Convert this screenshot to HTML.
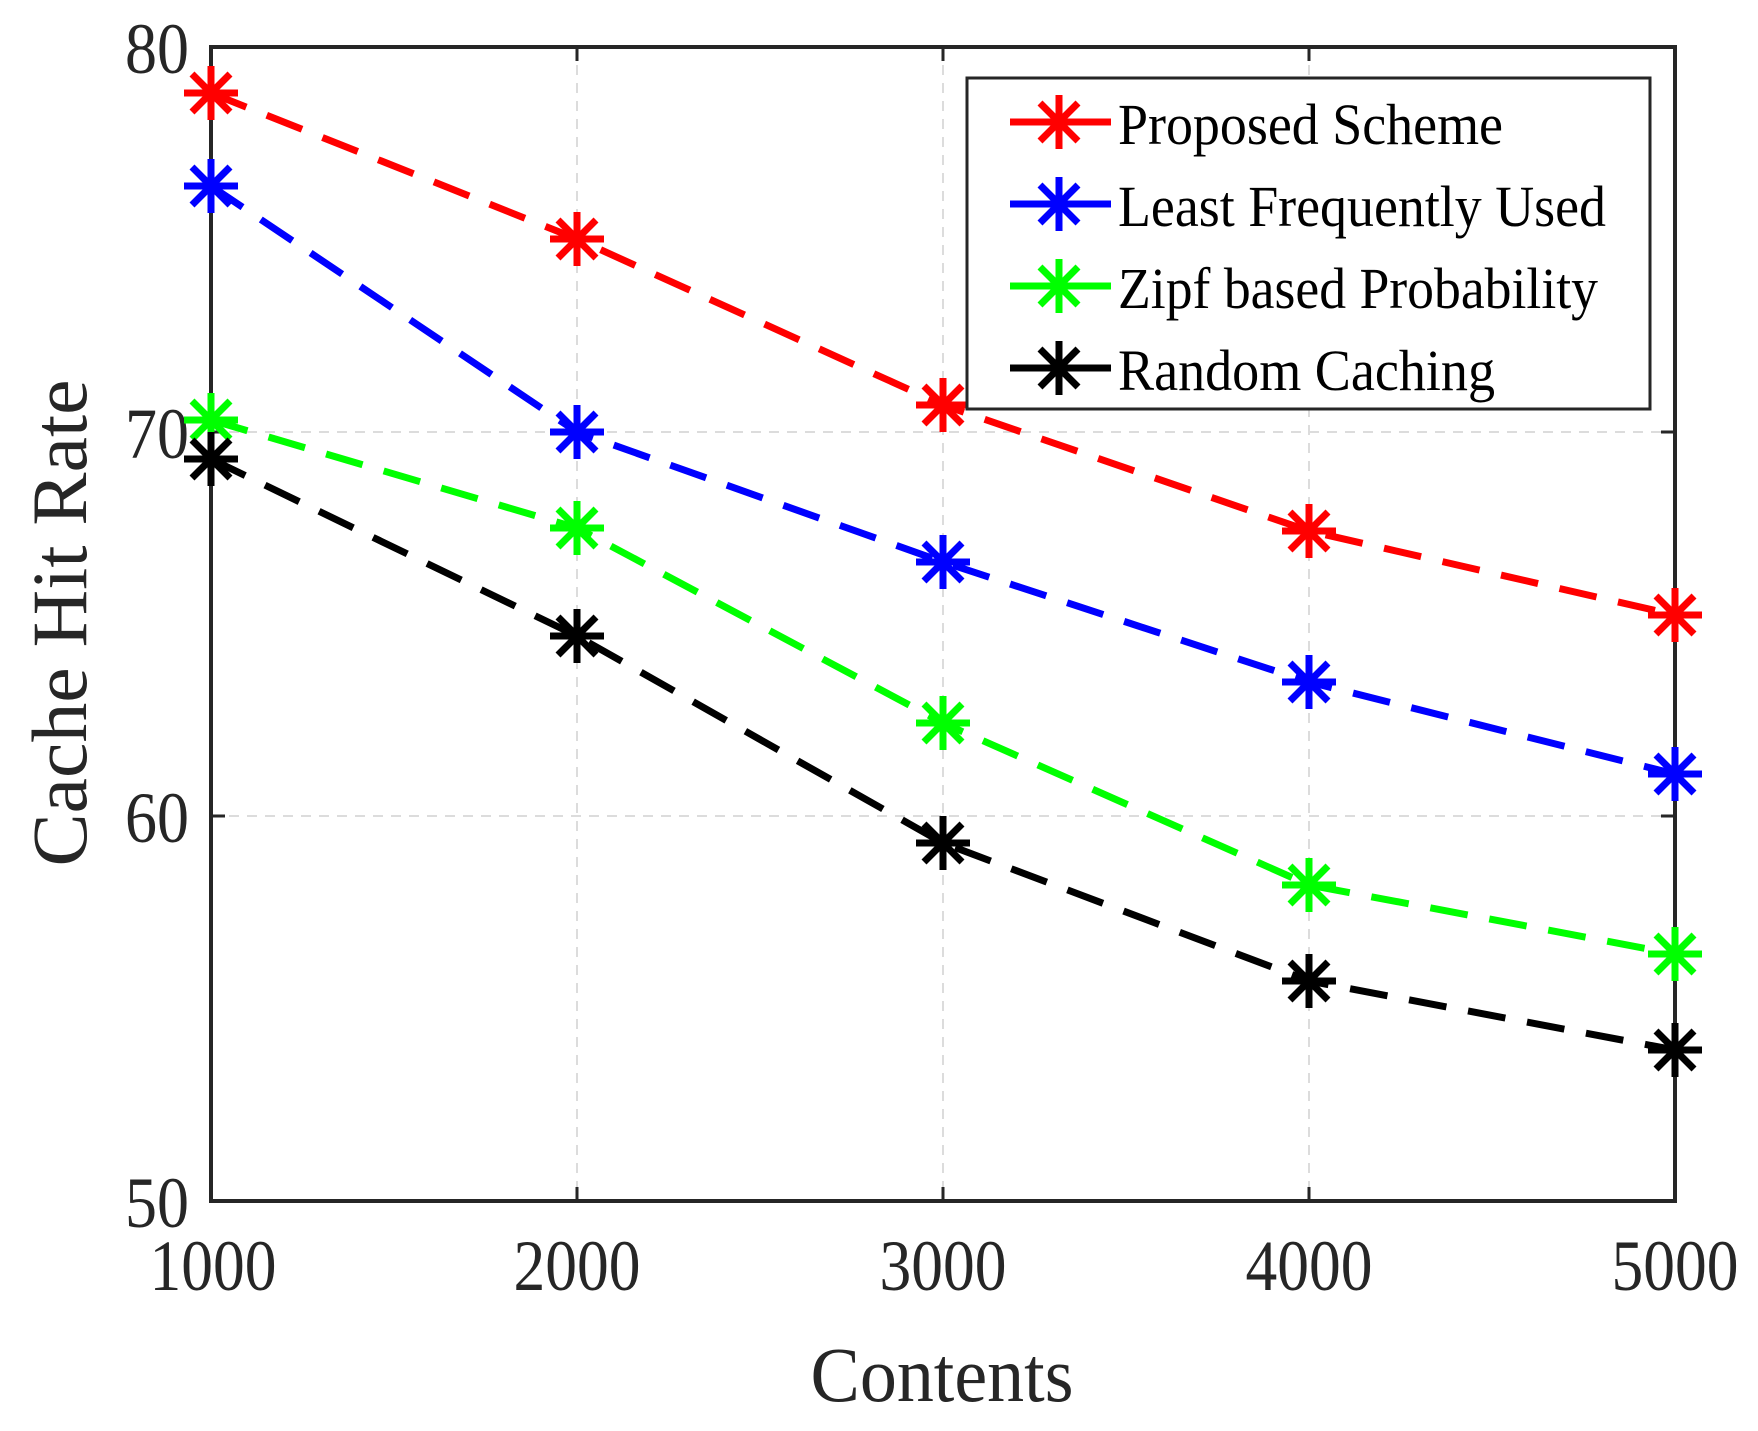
<!DOCTYPE html>
<html><head><style>body{margin:0;background:#fff}svg{display:block}</style></head><body>
<svg width="1758" height="1431" viewBox="0 0 1758 1431" xmlns="http://www.w3.org/2000/svg" font-family="Liberation Serif, serif" fill="#262626">
<defs>
<g id="ast"><path d="M0,-27V27M-27,0H27M-19,-19L19,19M-19,19L19,-19" stroke-width="7" fill="none"/></g>
</defs>
<rect width="1758" height="1431" fill="#fff"/>
<g stroke="#dcdcdc" stroke-width="2" stroke-dasharray="10,8">
<line x1="577" y1="47" x2="577" y2="1201"/><line x1="943" y1="47" x2="943" y2="1201"/><line x1="1309" y1="47" x2="1309" y2="1201"/>
<line x1="211" y1="432" x2="1675" y2="432"/><line x1="211" y1="816" x2="1675" y2="816"/>
</g>
<g fill="none" stroke="#262626" stroke-width="4">
<rect x="211" y="47" width="1464" height="1154"/>
</g>
<g stroke="#262626" stroke-width="3">
<line x1="577" y1="1201" x2="577" y2="1187"/><line x1="943" y1="1201" x2="943" y2="1187"/><line x1="1309" y1="1201" x2="1309" y2="1187"/>
<line x1="577" y1="47" x2="577" y2="61"/><line x1="943" y1="47" x2="943" y2="61"/><line x1="1309" y1="47" x2="1309" y2="61"/>
<line x1="211" y1="432" x2="225" y2="432"/><line x1="211" y1="816" x2="225" y2="816"/>
<line x1="1675" y1="432" x2="1661" y2="432"/><line x1="1675" y1="816" x2="1661" y2="816"/>
</g>
<g font-size="72" text-anchor="middle">
<text x="213" y="1290" textLength="127" lengthAdjust="spacingAndGlyphs">1000</text>
<text x="577" y="1290" textLength="127" lengthAdjust="spacingAndGlyphs">2000</text>
<text x="943" y="1290" textLength="127" lengthAdjust="spacingAndGlyphs">3000</text>
<text x="1309" y="1290" textLength="127" lengthAdjust="spacingAndGlyphs">4000</text>
<text x="1675" y="1290" textLength="127" lengthAdjust="spacingAndGlyphs">5000</text>
</g>
<g font-size="72" text-anchor="end">
<text x="189" y="1227" textLength="64" lengthAdjust="spacingAndGlyphs">50</text>
<text x="189" y="842" textLength="64" lengthAdjust="spacingAndGlyphs">60</text>
<text x="189" y="458" textLength="64" lengthAdjust="spacingAndGlyphs">70</text>
<text x="189" y="73" textLength="64" lengthAdjust="spacingAndGlyphs">80</text>
</g>
<text x="942" y="1401" font-size="78" text-anchor="middle" textLength="263" lengthAdjust="spacingAndGlyphs">Contents</text>
<text transform="translate(86,623) rotate(-90)" font-size="78" text-anchor="middle" textLength="487" lengthAdjust="spacingAndGlyphs">Cache Hit Rate</text>
<g fill="none" stroke-width="7" stroke-dasharray="38,22">
<polyline stroke="#ff0000" points="211,93 577,239 943,405 1309,531 1675,615"/>
<polyline stroke="#0000ff" points="211,186 577,432 943,562 1309,682 1675,774"/>
<polyline stroke="#00ff00" points="211,420 577,528 943,723 1309,885 1675,954"/>
<polyline stroke="#000000" points="211,459 577,636 943,843 1309,981 1675,1050"/>
</g>
<g stroke="#ff0000"><use href="#ast" x="211" y="93"/><use href="#ast" x="577" y="239"/><use href="#ast" x="943" y="405"/><use href="#ast" x="1309" y="531"/><use href="#ast" x="1675" y="615"/></g>
<g stroke="#0000ff"><use href="#ast" x="211" y="186"/><use href="#ast" x="577" y="432"/><use href="#ast" x="943" y="562"/><use href="#ast" x="1309" y="682"/><use href="#ast" x="1675" y="774"/></g>
<g stroke="#00ff00"><use href="#ast" x="211" y="420"/><use href="#ast" x="577" y="528"/><use href="#ast" x="943" y="723"/><use href="#ast" x="1309" y="885"/><use href="#ast" x="1675" y="954"/></g>
<g stroke="#000000"><use href="#ast" x="211" y="459"/><use href="#ast" x="577" y="636"/><use href="#ast" x="943" y="843"/><use href="#ast" x="1309" y="981"/><use href="#ast" x="1675" y="1050"/></g>
<rect x="967" y="78" width="683" height="331" fill="#fff" stroke="#262626" stroke-width="3"/>
<g stroke-width="7">
<line x1="1010" y1="122" x2="1111" y2="122" stroke="#ff0000"/><use href="#ast" x="1059" y="122" stroke="#ff0000"/>
<line x1="1010" y1="204" x2="1111" y2="204" stroke="#0000ff"/><use href="#ast" x="1059" y="204" stroke="#0000ff"/>
<line x1="1010" y1="286" x2="1111" y2="286" stroke="#00ff00"/><use href="#ast" x="1059" y="286" stroke="#00ff00"/>
<line x1="1010" y1="368" x2="1111" y2="368" stroke="#000000"/><use href="#ast" x="1059" y="368" stroke="#000000"/>
</g>
<g font-size="58" fill="#000">
<text x="1118" y="144" textLength="385" lengthAdjust="spacingAndGlyphs">Proposed Scheme</text>
<text x="1118" y="226" textLength="488" lengthAdjust="spacingAndGlyphs">Least Frequently Used</text>
<text x="1118" y="308" textLength="480" lengthAdjust="spacingAndGlyphs">Zipf based Probability</text>
<text x="1118" y="390" textLength="377" lengthAdjust="spacingAndGlyphs">Random Caching</text>
</g>
</svg>
</body></html>
